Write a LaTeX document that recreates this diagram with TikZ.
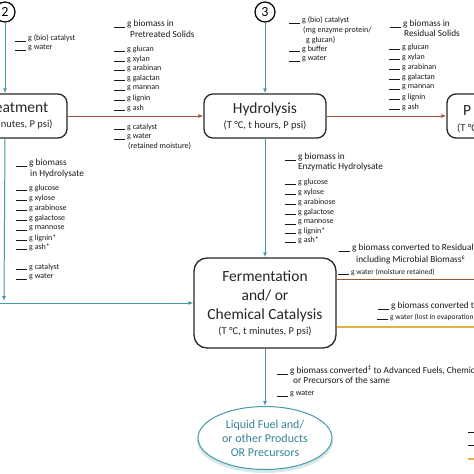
\documentclass[tikz,border=0pt]{standalone}
\usepackage{fontspec}
\setmainfont{Carlito}
\usetikzlibrary{arrows.meta, shapes.geometric, positioning}

\definecolor{flowteal}{RGB}{72,152,168}
\definecolor{flowbrown}{RGB}{160,82,52}
\definecolor{flowgold}{RGB}{222,180,66}
\definecolor{prodteal}{RGB}{52,132,152}
\newcommand{\fillin}{\rule[-1pt]{11pt}{0.7pt}\hspace{2pt}}
\newcommand{\cond}{\fontsize{10.5}{12}\selectfont}

\begin{document}
\begin{tikzpicture}[x=1pt, y=-1pt,
  stage/.style={draw=black!85, line width=1.3pt, rounded corners=9pt, minimum width=122pt,
    minimum height=44pt, align=center, text=black!85, font=\fontsize{15.5}{17}\selectfont},
  hdr/.style={anchor=west, inner sep=0pt, text=black!90, font=\fontsize{9.3}{10}\selectfont},
  itm/.style={anchor=west, inner sep=0pt, text=black!90, font=\fontsize{8}{9.8}\selectfont},
  tealarr/.style={draw=flowteal, line width=1pt, -{Latex[length=5pt,width=4pt]}},
  brownarr/.style={draw=flowbrown, line width=1pt, -{Latex[length=5pt,width=4pt]}},
  num/.style={circle, draw=black, line width=1.2pt, minimum size=20pt, inner sep=0pt,
    fill=white, font=\fontsize{14}{14}\selectfont}]

\useasboundingbox (0,0) rectangle (474,474);
\clip (0,0) rectangle (474,474);

% Process stages
\node[stage] (pretreat) at (6,116) {Pretreatment\\[-2pt]{\cond (T °C, t minutes, P psi)}};
\node[stage] (hydro) at (265,116) {Hydrolysis\\[-2pt]{\cond (T °C, t hours, P psi)}};
\node[stage] (purif) at (508,116) {};
\node[anchor=west, inner sep=0pt, text=black!85, font=\fontsize{15.5}{17}\selectfont] (purift) at (463,111) {P};
\node[anchor=west, inner sep=0pt, text=black!85, font=\cond] (purifc) at (457,129) {(T °C, t hours, P psi)};
\node[stage, minimum width=142pt, minimum height=90pt, rounded corners=13pt] (ferm) at (265,303)
  {Fermentation\\[2pt]and/ or\\[2pt]Chemical Catalysis\\[-2pt]{\cond (T °C, t minutes, P psi)}};

% Product
\node[ellipse, fill=flowteal!22, minimum width=136pt, minimum height=64pt] (glow) at (265,441) {};
\node[ellipse, draw=flowteal, line width=1pt, fill=white, minimum width=134pt, minimum height=63pt,
  align=center, text=prodteal, font=\fontsize{12}{14}\selectfont] (prod) at (265,438)
  {Liquid Fuel and/\\or other Products\\OR Precursors};

% Feed points
\node[num] (c2) at (5,12) {2};
\node[num] (c3) at (265,12) {3};

% Connectors
\coordinate (jn) at (4,301);
\coordinate (src) at (-6,303);
\coordinate (resid) at (484,279);
\coordinate (evap) at (484,327);
\draw[tealarr] (c2.south) -- (c2.south |- pretreat.north);
\draw[tealarr] (c3) -- (hydro);
\draw[tealarr] (c2 |- pretreat.south) -- (jn);
\draw[tealarr] (src) -- (ferm.west);
\draw[tealarr] (hydro) -- (ferm);
\draw[tealarr] (ferm) -- (prod);
\draw[brownarr] (pretreat) -- (hydro);
\draw[brownarr] (hydro) -- (purif);
\draw[brownarr] (ferm.east |- resid) -- (resid);
\draw[draw=flowgold, line width=1.1pt] (ferm.east |- evap) -- (evap);

% Inputs at feed 2
\node[itm] (a1) at (15,38) {\fillin g (bio) catalyst};
\node[itm] (a2) at (15,48) {\fillin g water};

% Pretreated solids
\node[hdr] (b0) at (114,24) {\fillin g biomass in};
\node[hdr] (b1) at (130,34) {Pretreated Solids};
\foreach \y/\t in {49/glucan, 59/xylan, 68/arabinan, 78/galactan, 88/mannan, 98/lignin,
                   108/ash, 127/catalyst, 137/water}
  \node[itm] (pts-\t) at (114,\y) {\fillin g \t};
\node[itm] (b2) at (128,146) {(retained moisture)};

% Inputs at feed 3
\node[itm] (e1) at (289,20) {\fillin g (bio) catalyst};
\node[itm] (e2) at (303,30) {(mg enzyme protein/};
\node[itm] (e3) at (306,40) {g glucan)};
\node[itm] (e4) at (289,49) {\fillin g buffer};
\node[itm] (e5) at (289,59) {\fillin g water};

% Residual solids
\node[hdr] (r0) at (390,24) {\fillin g biomass in};
\node[hdr] (r1) at (404,33) {Residual Solids};
\foreach \y/\t in {47/glucan, 57/xylan, 67/arabinan, 77/galactan, 87/mannan, 97/lignin, 107/ash}
  \node[itm] (res-\t) at (389,\y) {\fillin g \t};

% Hydrolysate
\node[hdr] (h0) at (16,163) {\fillin g biomass};
\node[hdr] (h1) at (30,174) {in Hydrolysate};
\foreach \y/\t in {188/glucose, 198/xylose, 208/arabinose, 218/galactose, 228/mannose,
                   238/lignin*, 247/ash*, 267/catalyst, 277/water}
  \node[itm] (hyd-\y) at (16,\y) {\fillin g \t};

% Enzymatic hydrolysate
\node[hdr] (z0) at (285,157) {\fillin g biomass in};
\node[hdr] (z1) at (298,167) {Enzymatic Hydrolysate};
\foreach \y/\t in {182/glucose, 192/xylose, 202/arabinose, 212/galactose, 222/mannose,
                   231/lignin*, 240/ash*}
  \node[itm] (enz-\y) at (285,\y) {\fillin g \t};

% Residuals and losses
\node[hdr] (s0) at (339,248) {\fillin g biomass converted to Residuals};
\node[hdr] (s1) at (356,260) {including Microbial Biomass\textsuperscript{£}};
\node[itm, font=\fontsize{7.5}{9}\selectfont] (s2) at (338,272) {\fillin g water (moisture retained)};
\node[hdr] (l0) at (378,306) {\fillin g biomass converted to};
\node[itm, font=\fontsize{7.5}{9}\selectfont] (l1) at (377,317) {\fillin g water (lost in evaporation)};

% Products
\node[hdr] (p0) at (277,370) {\fillin g biomass converted\textsuperscript{‡} to Advanced Fuels, Chemicals};
\node[hdr] (p1) at (293,380) {or Precursors of the same};
\node[itm] (p2) at (277,394) {\fillin g water};

% Cut-off entries at the lower right
\node[itm] (q0) at (468,432) {\fillin};
\node[itm] (q1) at (468,445) {\fillin};
\coordinate (qend) at (484,459);
\draw[draw=flowgold, line width=1.1pt] (468,459) -- (qend);

\end{tikzpicture}
\end{document}
